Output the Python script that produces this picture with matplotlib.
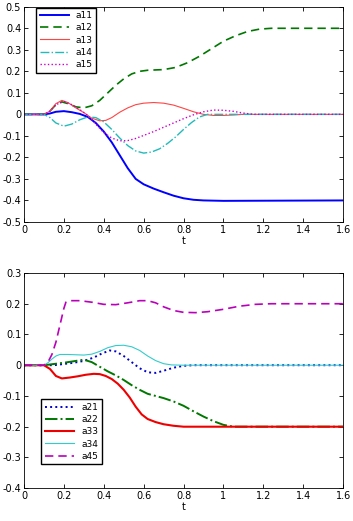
import matplotlib
matplotlib.use('Agg')
import matplotlib.pyplot as plt

plt.rcParams['font.family'] = ['DejaVu Sans']
plt.rcParams['font.size'] = 7

# top panel data
t11 = [0, 0.1, 0.13, 0.16, 0.2, 0.24, 0.28, 0.32, 0.36, 0.4, 0.44, 0.48, 0.52, 0.56, 0.6, 0.65, 0.7, 0.75, 0.8, 0.85, 0.9, 1.0, 1.6]
a11 = [0, 0, 0.004, 0.012, 0.015, 0.01, 0.002, -0.012, -0.04, -0.08, -0.13, -0.19, -0.25, -0.3, -0.325, -0.345, -0.362, -0.378, -0.39, -0.397, -0.4, -0.402, -0.4]
t12 = [0, 0.1, 0.13, 0.16, 0.19, 0.22, 0.26, 0.3, 0.34, 0.38, 0.42, 0.46, 0.5, 0.54, 0.58, 0.62, 0.7, 0.76, 0.82, 0.88, 0.94, 1.0, 1.06, 1.12, 1.18, 1.24, 1.6]
a12 = [0, 0, 0.015, 0.045, 0.058, 0.05, 0.035, 0.03, 0.04, 0.065, 0.1, 0.135, 0.165, 0.188, 0.2, 0.205, 0.208, 0.218, 0.24, 0.27, 0.305, 0.34, 0.365, 0.385, 0.396, 0.4, 0.4]
t13 = [0, 0.1, 0.13, 0.16, 0.19, 0.22, 0.26, 0.3, 0.34, 0.38, 0.41, 0.44, 0.48, 0.52, 0.56, 0.6, 0.65, 0.7, 0.75, 0.8, 0.85, 0.9, 0.95, 1.0, 1.05, 1.1, 1.6]
a13 = [0, 0, 0.015, 0.05, 0.065, 0.055, 0.03, 0.008, -0.018, -0.03, -0.028, -0.015, 0.01, 0.03, 0.045, 0.052, 0.055, 0.052, 0.043, 0.028, 0.012, 0, -0.005, -0.005, -0.003, 0, 0]
t14 = [0, 0.1, 0.13, 0.16, 0.2, 0.24, 0.28, 0.32, 0.36, 0.4, 0.44, 0.48, 0.52, 0.56, 0.6, 0.64, 0.68, 0.72, 0.76, 0.8, 0.84, 0.88, 0.92, 1.6]
a14 = [0, 0, -0.015, -0.04, -0.055, -0.045, -0.025, -0.012, -0.015, -0.035, -0.07, -0.11, -0.145, -0.17, -0.18, -0.175, -0.16, -0.135, -0.105, -0.07, -0.038, -0.012, 0, 0]
t15 = [0, 0.1, 0.13, 0.16, 0.2, 0.24, 0.28, 0.32, 0.36, 0.4, 0.44, 0.48, 0.52, 0.56, 0.6, 0.65, 0.7, 0.75, 0.8, 0.85, 0.9, 0.95, 1.0, 1.05, 1.1, 1.15, 1.6]
a15 = [0, 0, 0.015, 0.045, 0.06, 0.045, 0.022, -0.005, -0.045, -0.085, -0.11, -0.123, -0.122, -0.112, -0.098, -0.08, -0.06, -0.04, -0.02, -0.002, 0.012, 0.02, 0.019, 0.014, 0.006, 0, 0]

# bottom panel data
t21 = [0, 0.15, 0.2, 0.25, 0.3, 0.35, 0.39, 0.43, 0.46, 0.5, 0.54, 0.58, 0.62, 0.66, 0.7, 0.75, 0.8, 0.85, 1.6]
a21 = [0, 0, 0.004, 0.008, 0.014, 0.025, 0.038, 0.048, 0.045, 0.03, 0.01, -0.01, -0.023, -0.025, -0.018, -0.008, -0.002, 0, 0]
t22 = [0, 0.1, 0.15, 0.2, 0.25, 0.3, 0.34, 0.38, 0.42, 0.46, 0.5, 0.54, 0.58, 0.62, 0.66, 0.7, 0.75, 0.8, 0.85, 0.9, 0.95, 1.0, 1.05, 1.1, 1.6]
a22 = [0, 0, 0.004, 0.008, 0.013, 0.018, 0.01, -0.005, -0.02, -0.033, -0.048, -0.065, -0.08, -0.093, -0.1, -0.107, -0.118, -0.132, -0.15, -0.167, -0.182, -0.194, -0.2, -0.2, -0.2]
t33 = [0, 0.1, 0.13, 0.16, 0.19, 0.23, 0.27, 0.31, 0.35, 0.38, 0.41, 0.44, 0.47, 0.5, 0.53, 0.56, 0.59, 0.62, 0.66, 0.7, 0.75, 0.8, 0.85, 1.6]
a33 = [0, 0, -0.012, -0.035, -0.043, -0.04, -0.036, -0.031, -0.028, -0.029, -0.035, -0.045, -0.06, -0.08, -0.105, -0.135, -0.16, -0.175, -0.185, -0.192, -0.197, -0.2, -0.2, -0.2]
t34 = [0, 0.1, 0.12, 0.14, 0.16, 0.18, 0.22, 0.26, 0.3, 0.34, 0.38, 0.42, 0.46, 0.5, 0.54, 0.58, 0.62, 0.66, 0.7, 0.74, 0.8, 1.6]
a34 = [0, 0, 0.008, 0.02, 0.03, 0.035, 0.035, 0.034, 0.033, 0.036, 0.045, 0.057, 0.064, 0.065, 0.06, 0.048, 0.03, 0.015, 0.005, 0.001, 0, 0]
t45 = [0, 0.1, 0.12, 0.14, 0.16, 0.18, 0.2, 0.21, 0.23, 0.28, 0.34, 0.4, 0.46, 0.52, 0.58, 0.62, 0.66, 0.7, 0.75, 0.8, 0.86, 0.92, 1.0, 1.08, 1.16, 1.24, 1.6]
a45 = [0, 0, 0.01, 0.035, 0.075, 0.13, 0.185, 0.205, 0.21, 0.21, 0.205, 0.198, 0.197, 0.203, 0.21, 0.21, 0.203, 0.19, 0.178, 0.172, 0.171, 0.174, 0.182, 0.192, 0.198, 0.2, 0.2]

fig = plt.figure(figsize=(3.53, 5.21), dpi=100)
ax1 = fig.add_axes([0.068, 0.574, 0.904, 0.413])
ax2 = fig.add_axes([0.068, 0.063, 0.904, 0.413])

ax1.plot(t11, a11, color='#0000ff', lw=1.4, label='a11')
ax1.plot(t12, a12, color='#007700', lw=1.2, ls=(0, (5, 3)), label='a12')
ax1.plot(t13, a13, color='#ff4444', lw=0.8, label='a13')
ax1.plot(t14, a14, color='#22bbbb', lw=1.0, ls='-.', label='a14')
ax1.plot(t15, a15, color='#cc00cc', lw=1.0, ls=':', label='a15')
ax1.set_ylim(-0.5, 0.5)
ax1.set_yticks([-0.5, -0.4, -0.3, -0.2, -0.1, 0, 0.1, 0.2, 0.3, 0.4, 0.5])
ax1.set_yticklabels(['-0.5', '-0.4', '-0.3', '-0.2', '-0.1', '0', '0.1', '0.2', '0.3', '0.4', '0.5'])
ax1.legend(loc='upper left', fancybox=False, edgecolor='black', framealpha=1,
           borderaxespad=0.1, handlelength=3.2, fontsize=6.5, labelspacing=0.35,
           bbox_to_anchor=(0.035, 1.0))

ax2.plot(t21, a21, color='#0000cc', lw=1.4, ls=':', label='a21')
ax2.plot(t22, a22, color='#007700', lw=1.4, ls='-.', label='a22')
ax2.plot(t33, a33, color='#ee0000', lw=1.5, label='a33')
ax2.plot(t34, a34, color='#33cccc', lw=0.8, label='a34')
ax2.plot(t45, a45, color='#bb00bb', lw=1.2, ls=(0, (5, 3)), label='a45')
ax2.set_ylim(-0.4, 0.3)
ax2.set_yticks([-0.4, -0.3, -0.2, -0.1, 0, 0.1, 0.2, 0.3])
ax2.set_yticklabels(['-0.4', '-0.3', '-0.2', '-0.1', '0', '0.1', '0.2', '0.3'])
ax2.legend(loc='lower left', fancybox=False, edgecolor='black', framealpha=1,
           handlelength=3.2, fontsize=6.5, labelspacing=0.35,
           bbox_to_anchor=(0.04, 0.09))

for ax in (ax1, ax2):
    ax.set_xlim(0, 1.6)
    ax.set_xticks([0, 0.2, 0.4, 0.6, 0.8, 1, 1.2, 1.4, 1.6])
    ax.set_xticklabels(['0', '0.2', '0.4', '0.6', '0.8', '1', '1.2', '1.4', '1.6'])
    ax.tick_params(direction='in', top=True, right=True, length=3, width=0.6, pad=2)
    ax.set_xlabel('t', labelpad=1)
    for s in ax.spines.values():
        s.set_linewidth(0.6)

fig.savefig('out.png', dpi=100)
